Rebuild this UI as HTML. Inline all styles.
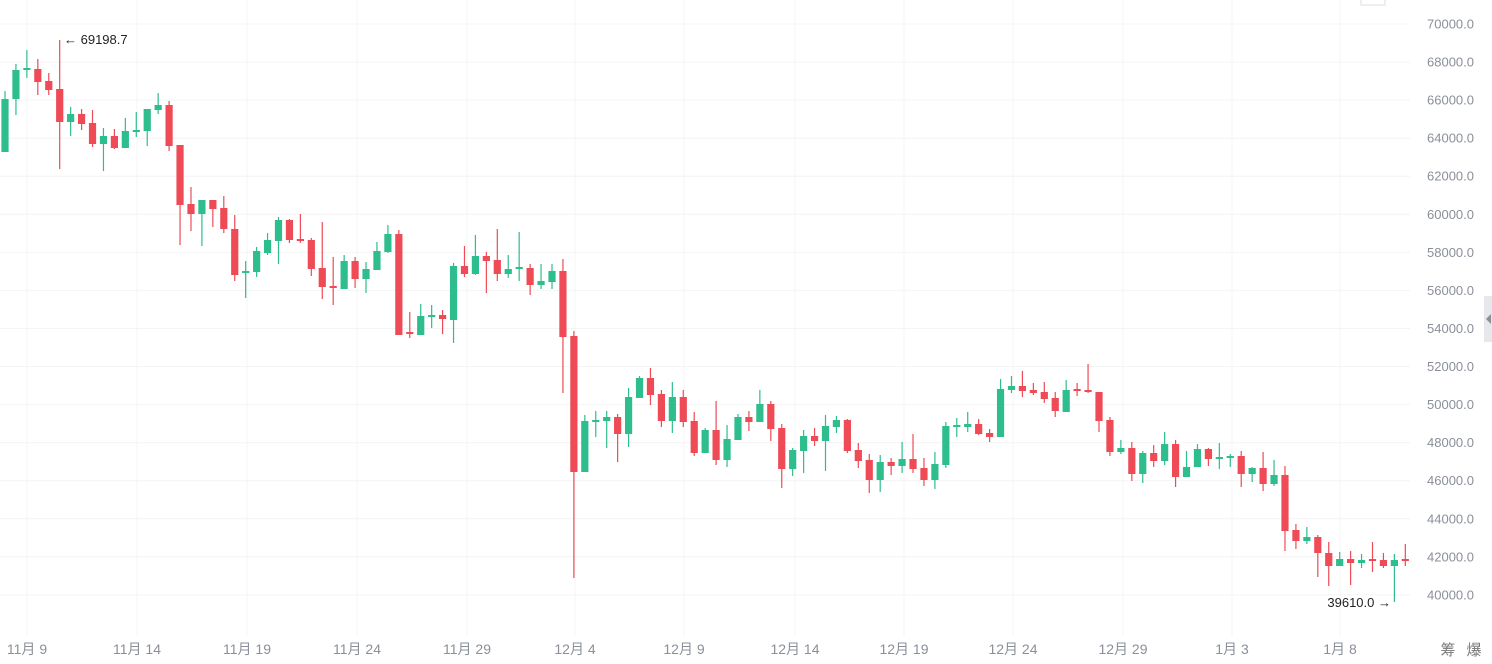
<!DOCTYPE html>
<html><head><meta charset="utf-8"><style>
html,body{margin:0;padding:0;background:#fff;width:1492px;height:664px;overflow:hidden}
svg{display:block}
text{font-family:"Liberation Sans","Noto Sans CJK SC",sans-serif}
</style></head><body>
<svg id="s" width="1492" height="664" xmlns="http://www.w3.org/2000/svg"></svg>
<script>
const D=[
[99,152,91,152,'g'],[70,99,64,115,'g'],[68,70,50,78,'g'],[69,82,59,95,'r'],[81,90,73,95,'r'],[89,122,40,169,'r'],[114,122,107,136,'g'],[114,124,109,130,'r'],[123,144,110,147,'r'],[136,144,128,171,'g'],
[136,148,129,149,'r'],[131,148,118,148,'g'],[130,132,112,137,'g'],[109,131,109,146,'g'],[105,110,93,114,'g'],[105,146,101,151,'r'],[145,205,145,245,'r'],[204,214,187,231,'r'],[200,214,200,246,'g'],[200,209,200,227,'r'],
[208,229,196,233,'r'],[229,275,215,281,'r'],[271,273,261,298,'g'],[251,272,247,277,'g'],[240,253,233,255,'g'],[220,241,217,264,'g'],[220,240,219,243,'r'],[239,241,214,243,'r'],[240,269,238,276,'r'],[268,287,222,299,'r'],
[286,288,257,305,'r'],[261,289,255,289,'g'],[261,279,257,288,'r'],[269,279,262,293,'g'],[251,270,242,270,'g'],[234,252,225,253,'g'],[234,335,230,335,'r'],[332,334,312,338,'r'],[316,335,304,335,'g'],[315,317,305,328,'g'],
[315,319,310,334,'r'],[266,320,263,343,'g'],[266,274,246,277,'r'],[256,274,235,275,'g'],[256,261,252,293,'r'],[260,274,229,281,'r'],[269,274,255,278,'g'],[267,269,232,281,'g'],[268,285,264,295,'r'],[281,285,264,289,'g'],
[271,282,264,289,'g'],[271,337,259,393,'r'],[336,472,331,578,'r'],[421,472,415,472,'g'],[420,422,411,437,'g'],[417,421,411,448,'g'],[417,434,414,462,'r'],[397,434,388,447,'g'],[378,398,376,398,'g'],[378,395,368,405,'r'],
[394,421,390,427,'r'],[397,421,382,433,'g'],[397,422,390,427,'r'],[421,453,412,456,'r'],[430,453,428,453,'g'],[430,460,401,465,'r'],[439,460,425,467,'g'],[417,440,414,440,'g'],[417,422,411,431,'r'],[404,422,390,422,'g'],
[404,429,401,441,'r'],[428,469,424,488,'r'],[450,469,448,476,'g'],[436,451,430,473,'g'],[436,441,428,446,'r'],[426,441,415,471,'g'],[420,427,416,433,'g'],[420,451,419,453,'r'],[450,461,443,468,'r'],[460,480,454,493,'r'],
[462,480,455,492,'g'],[462,466,458,475,'r'],[459,466,442,473,'g'],[459,469,434,473,'r'],[468,480,458,486,'r'],[464,480,452,489,'g'],[426,465,422,468,'g'],[425,427,418,437,'g'],[424,427,412,432,'g'],[424,434,419,435,'r'],
[433,437,429,442,'r'],[389,437,379,437,'g'],[386,390,376,393,'g'],[386,391,371,397,'r'],[390,393,383,395,'r'],[392,399,382,403,'r'],[398,411,392,417,'r'],[390,412,380,412,'g'],[389,391,383,396,'r'],[390,392,364,393,'r'],
[392,421,392,432,'r'],[420,452,417,456,'r'],[448,452,440,454,'g'],[448,474,442,481,'r'],[453,474,451,483,'g'],[453,461,445,467,'r'],[444,461,432,465,'g'],[444,477,440,487,'r'],[467,477,451,477,'g'],[449,467,444,467,'g'],
[449,459,448,466,'r'],[457,459,443,469,'g'],[456,458,454,467,'g'],[456,474,451,487,'r'],[468,474,467,482,'g'],[468,484,452,491,'r'],[475,484,460,486,'g'],[475,531,466,551,'r'],[530,541,524,549,'r'],[537,541,527,544,'g'],
[537,553,535,577,'r'],[553,566,542,586,'r'],[559,566,552,566,'g'],[559,563,551,585,'r'],[560,563,554,568,'g'],[559,561,542,572,'r'],[560,566,553,568,'r'],[560,566,554,602,'g'],[559,561,544,566,'r']
];
let h='';
for(let k=0;k<=15;k++){const y=(24+k*38.06).toFixed(1);h+=`<line x1="0" x2="1410" y1="${y}" y2="${y}" stroke="#f4f4f4" stroke-width="1"/>`;
h+=`<text x="1474" y="${(+y+4.5).toFixed(1)}" font-size="13" fill="#8a8f99" text-anchor="end">${70000-k*2000}.0</text>`;}
const L=[['11月 9',27],['11月 14',137],['11月 19',247],['11月 24',357],['11月 29',467],['12月 4',575],['12月 9',684],['12月 14',795],['12月 19',904],['12月 24',1013],['12月 29',1123],['1月 3',1232],['1月 8',1340]];
for(const [t,x] of L){h+=`<line x1="${x}" x2="${x}" y1="0" y2="636" stroke="#f4f4f4"/>`;h+=`<text x="${x}" y="654" font-size="14" fill="#8a8f99" text-anchor="middle">${t}</text>`;}
D.forEach((d,i)=>{const x=5+10.94*i;const c=d[4]=='g'?'#2ebd8c':'#ef4b56';
h+=`<line x1="${x.toFixed(2)}" x2="${x.toFixed(2)}" y1="${d[2]}" y2="${d[3]}" stroke="${c}" stroke-width="1.2"/>`;
const ht=Math.max(d[1]-d[0],1.6);h+=`<rect x="${(x-3.6).toFixed(2)}" y="${d[0]}" width="7.2" height="${ht}" fill="${c}"/>`;});
h+=`<text x="64" y="44" font-size="13" fill="#222">← 69198.7</text>`;
h+=`<text x="1391" y="607" font-size="13" fill="#222" text-anchor="end">39610.0 →</text>`;
h+=`<rect x="1361" y="-4" width="24" height="9" fill="#fff" stroke="#ddd"/>`;
h+=`<rect x="1484" y="296" width="8" height="46" fill="#e6e8eb"/><path d="M1486 319 L1491 314 L1491 324 Z" fill="#8a8f99"/>`;
h+=`<text x="1448" y="655" font-size="15" fill="#777" text-anchor="middle">筹</text><text x="1474" y="655" font-size="15" fill="#777" text-anchor="middle">爆</text>`;
document.getElementById('s').innerHTML=h;
</script>
</body></html>
